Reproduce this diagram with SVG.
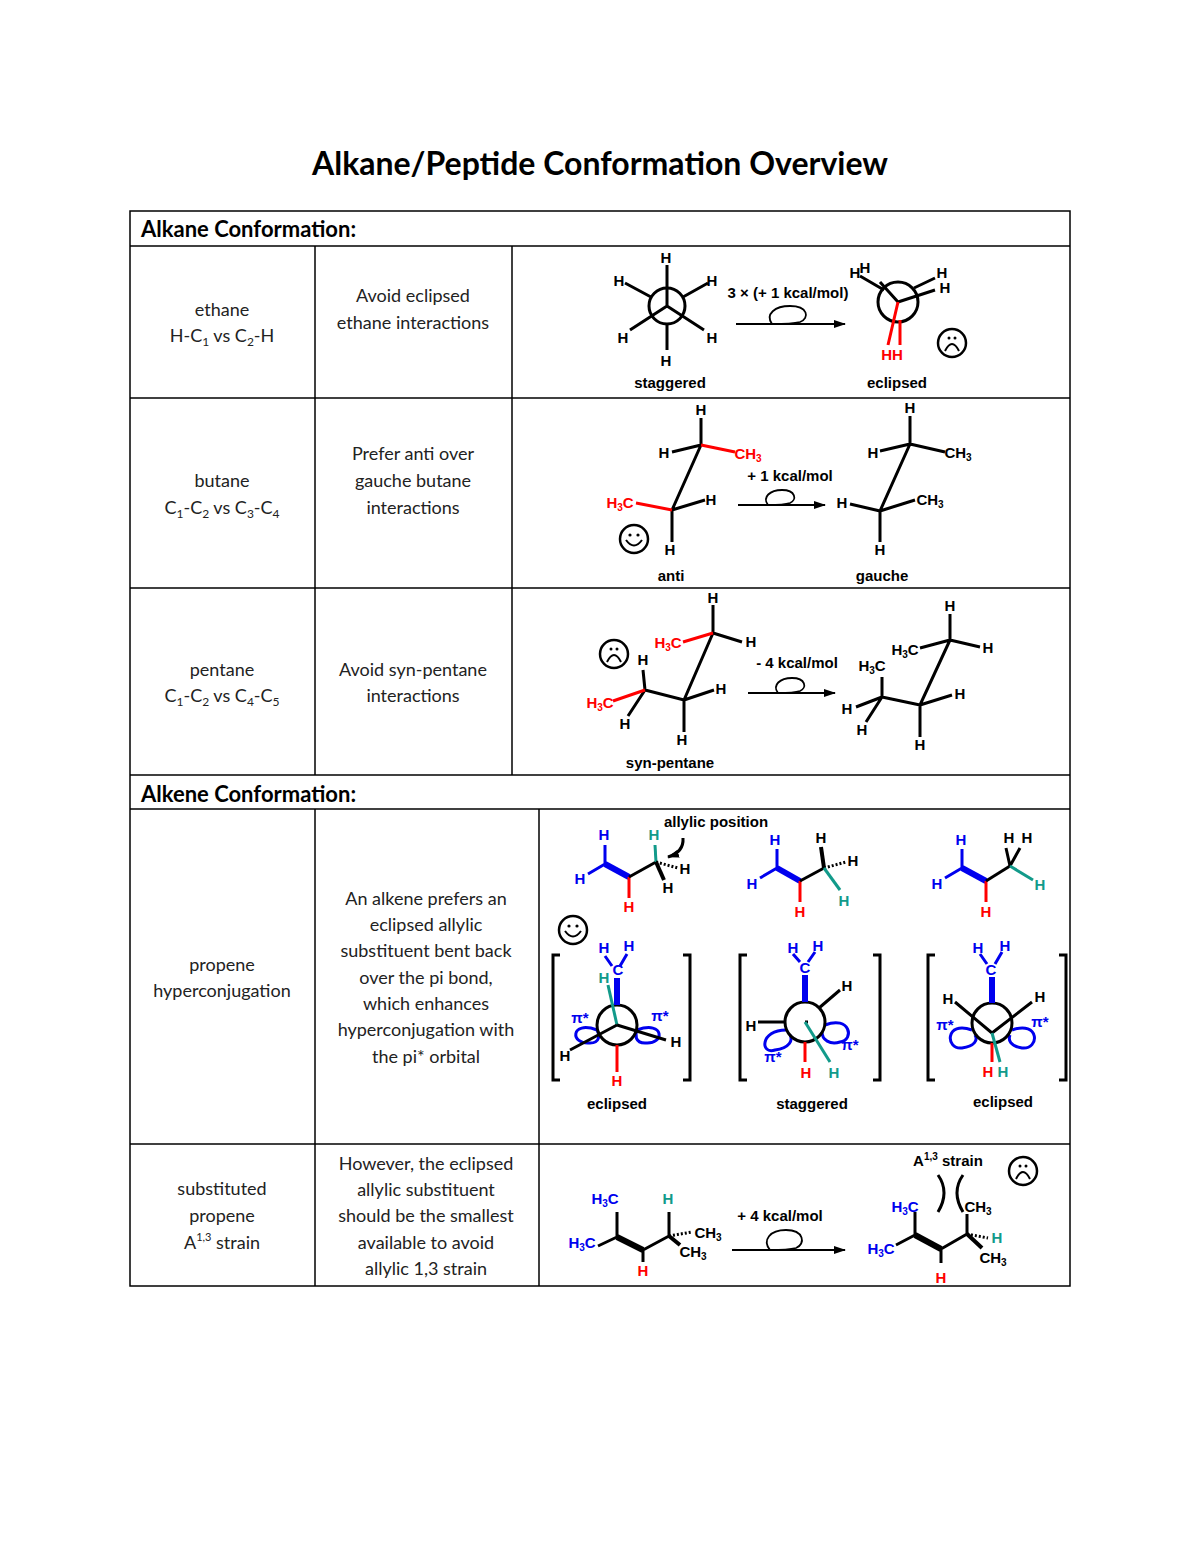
<svg xmlns="http://www.w3.org/2000/svg" width="1200" height="1553" viewBox="0 0 1200 1553">
<style>
.t{font-family:Lato,"Liberation Sans",sans-serif;font-size:18px;fill:#222;text-anchor:middle}
.h{font-family:Lato,"Liberation Sans",sans-serif;font-size:22px;font-weight:bold;fill:#000}
.c{font-family:"Liberation Sans",Arial,sans-serif;font-size:15px;font-weight:bold;fill:#000;text-anchor:middle}
.s{font-size:10px}
.b{stroke:#000;stroke-width:3;fill:none}
.bl{stroke:#0000ee;stroke-width:3;fill:none}
.r{stroke:#f00;stroke-width:3;fill:none}
.g{stroke:#129a8a;stroke-width:3;fill:none}
.ln{stroke:#000;stroke-width:1.8;fill:none}
.B{fill:#0000ee}.R{fill:#f00}.G{fill:#129a8a}
</style>
<defs>
<marker id="ah" markerWidth="12" markerHeight="8" refX="11" refY="4" orient="auto" markerUnits="userSpaceOnUse"><path d="M0,0 L12,4 L0,8z" fill="#000"/></marker>
<g id="smile"><circle r="14" fill="none" stroke="#000" stroke-width="2.5"/><circle cx="-4" cy="-4" r="1.6"/><circle cx="4" cy="-4" r="1.6"/><path d="M-8,1 Q0,12 8,1" stroke="#000" stroke-width="2" fill="none"/></g>
<g id="frown"><circle r="14" fill="none" stroke="#000" stroke-width="2.5"/><circle cx="-3" cy="-5" r="1.5"/><circle cx="3" cy="-5" r="1.5"/><path d="M-7,8 Q0,-6 7,8" stroke="#000" stroke-width="2" fill="none"/></g>
</defs>
<text x="600" y="175" text-anchor="middle" font-family="Lato,'Liberation Sans',sans-serif" font-size="32" font-weight="bold">Alkane/Peptide Conformation Overview</text>
<g id="table" stroke="#000" stroke-width="1.5" fill="none">
<rect x="130" y="211" width="940" height="1075"/>
<line x1="130" y1="246" x2="1070" y2="246"/><line x1="130" y1="398" x2="1070" y2="398"/>
<line x1="130" y1="588" x2="1070" y2="588"/><line x1="130" y1="775" x2="1070" y2="775"/>
<line x1="130" y1="809" x2="1070" y2="809"/><line x1="130" y1="1144" x2="1070" y2="1144"/>
<line x1="315" y1="246" x2="315" y2="775"/><line x1="512" y1="246" x2="512" y2="775"/>
<line x1="315" y1="809" x2="315" y2="1286"/><line x1="539" y1="809" x2="539" y2="1286"/>
</g>
<text class="h" x="141" y="237">Alkane Conformation:</text>
<text class="h" x="141" y="802">Alkene Conformation:</text>
<g id="col-text">
<text class="t" x="222" y="316">ethane</text>
<text class="t" x="222" y="342">H-C<tspan font-size="12" dy="4">1</tspan><tspan dy="-4"> vs C</tspan><tspan font-size="12" dy="4">2</tspan><tspan dy="-4">-H</tspan></text>
<text class="t" x="413" y="302">Avoid eclipsed</text><text class="t" x="413" y="329">ethane interactions</text>
<text class="t" x="222" y="487">butane</text>
<text class="t" x="222" y="514">C<tspan font-size="12" dy="4">1</tspan><tspan dy="-4">-C</tspan><tspan font-size="12" dy="4">2</tspan><tspan dy="-4"> vs C</tspan><tspan font-size="12" dy="4">3</tspan><tspan dy="-4">-C</tspan><tspan font-size="12" dy="4">4</tspan></text>
<text class="t" x="413" y="460">Prefer anti over</text><text class="t" x="413" y="487">gauche butane</text><text class="t" x="413" y="514">interactions</text>
<text class="t" x="222" y="676">pentane</text>
<text class="t" x="222" y="702">C<tspan font-size="12" dy="4">1</tspan><tspan dy="-4">-C</tspan><tspan font-size="12" dy="4">2</tspan><tspan dy="-4"> vs C</tspan><tspan font-size="12" dy="4">4</tspan><tspan dy="-4">-C</tspan><tspan font-size="12" dy="4">5</tspan></text>
<text class="t" x="413" y="676">Avoid syn-pentane</text><text class="t" x="413" y="702">interactions</text>
<text class="t" x="222" y="971">propene</text><text class="t" x="222" y="997">hyperconjugation</text>
<text class="t" x="426" y="905">An alkene prefers an</text><text class="t" x="426" y="931">eclipsed allylic</text><text class="t" x="426" y="957">substituent bent back</text><text class="t" x="426" y="984">over the pi bond,</text><text class="t" x="426" y="1010">which enhances</text><text class="t" x="426" y="1036">hyperconjugation with</text><text class="t" x="426" y="1063">the pi* orbital</text>
<text class="t" x="222" y="1195">substituted</text><text class="t" x="222" y="1222">propene</text>
<text class="t" x="222" y="1249">A<tspan font-size="11" dy="-8">1,3</tspan><tspan dy="8"> strain</tspan></text>
<text class="t" x="426" y="1170">However, the eclipsed</text><text class="t" x="426" y="1196">allylic substituent</text><text class="t" x="426" y="1222">should be the smallest</text><text class="t" x="426" y="1249">available to avoid</text><text class="t" x="426" y="1275">allylic 1,3 strain</text>
</g>
<g id="ethane-staggered">
<circle cx="667" cy="306" r="18" class="b"/>
<path class="b" d="M667,306V265M667,306L630,330M667,306L704,330M651,297L625,283M683,297L708,283M667,324V350"/>
<text class="c" x="666" y="263">H</text><text class="c" x="619" y="286">H</text><text class="c" x="712" y="286">H</text>
<text class="c" x="623" y="343">H</text><text class="c" x="712" y="343">H</text><text class="c" x="666" y="366">H</text>
<text class="c" x="670" y="388">staggered</text>
</g>
<g id="ethane-eclipsed">
<circle cx="898" cy="302" r="20" class="b"/>
<path class="b" d="M898,302L880,282M898,302L935,290M884,290L860,276M914,288L935,278"/>
<path class="r" d="M898,302L888,345M900,320L900,345"/>
<text class="c" x="855" y="278">H</text><text class="c" x="865" y="273">H</text>
<text class="c" x="942" y="278">H</text><text class="c" x="945" y="293">H</text>
<text class="c R" x="892" y="360">HH</text>
<text class="c" x="897" y="388">eclipsed</text>
<use href="#frown" x="952" y="343"/>
</g>
<g id="butane-anti">
<path class="b" d="M701,445L672,510M701,445V418M701,445L672,452M672,510L705,500M672,510V542"/>
<path class="r" d="M701,445L735,452M672,510L636,503"/>
<text class="c" x="701" y="415">H</text><text class="c" x="664" y="458">H</text><text class="c R" x="748" y="459">CH<tspan class="s" dy="3">3</tspan></text>
<text class="c R" x="620" y="508">H<tspan class="s" dy="3">3</tspan><tspan dy="-3">C</tspan></text><text class="c" x="711" y="505">H</text><text class="c" x="670" y="555">H</text>
<use href="#smile" x="634" y="539"/>
<text class="c" x="671" y="581">anti</text>
</g>
<g id="butane-gauche">
<path class="b" d="M910,444L880,511M910,444V416M910,444L880,451M910,444L945,452M880,511L850,504M880,511L915,500M880,511V542"/>
<text class="c" x="910" y="413">H</text><text class="c" x="873" y="458">H</text><text class="c" x="958" y="458">CH<tspan class="s" dy="3">3</tspan></text>
<text class="c" x="842" y="508">H</text><text class="c" x="930" y="505">CH<tspan class="s" dy="3">3</tspan></text><text class="c" x="880" y="555">H</text>
<text class="c" x="882" y="581">gauche</text>
</g>
<g id="pentane-syn">
<path class="b" d="M713,633L684,700L645,690M713,633V605M713,633L742,642M684,700L714,690M684,700V732M645,690L643,670M645,690L628,716"/>
<path class="r" d="M713,633L683,642M645,690L613,701"/>
<text class="c" x="713" y="603">H</text><text class="c R" x="668" y="648">H<tspan class="s" dy="3">3</tspan><tspan dy="-3">C</tspan></text><text class="c" x="751" y="647">H</text>
<text class="c" x="643" y="665">H</text><text class="c R" x="600" y="708">H<tspan class="s" dy="3">3</tspan><tspan dy="-3">C</tspan></text><text class="c" x="625" y="729">H</text>
<text class="c" x="721" y="694">H</text><text class="c" x="682" y="745">H</text>
<use href="#frown" x="614" y="654"/>
<text class="c" x="670" y="768">syn-pentane</text>
</g>
<g id="pentane-right">
<path class="b" d="M950,640L920,705L882,697M950,640V614M950,640L920,648M950,640L980,647M920,705L952,695M920,705V737M882,697L882,677M882,697L856,707M882,697L866,722"/>
<text class="c" x="950" y="611">H</text><text class="c" x="905" y="655">H<tspan class="s" dy="3">3</tspan><tspan dy="-3">C</tspan></text><text class="c" x="988" y="653">H</text>
<text class="c" x="872" y="671">H<tspan class="s" dy="3">3</tspan><tspan dy="-3">C</tspan></text><text class="c" x="847" y="714">H</text><text class="c" x="862" y="735">H</text>
<text class="c" x="960" y="699">H</text><text class="c" x="920" y="750">H</text>
</g>
<g id="propene1">
<path class="bl" d="M605,864V845M605,864L588,874" /><path stroke="#0000ee" stroke-width="6" d="M605,864L629,877"/>
<path class="r" d="M629,877V898"/><path class="b" d="M629,877L656,862"/><path class="g" d="M656,862L655,845"/>
<path stroke="#000" stroke-width="3" stroke-dasharray="2,2" d="M656,862L678,868"/><path stroke="#000" stroke-width="4" d="M656,862L664,880"/>
<text class="c B" x="604" y="840">H</text><text class="c B" x="580" y="884">H</text><text class="c R" x="629" y="912">H</text>
<text class="c G" x="654" y="840">H</text><text class="c" x="685" y="874">H</text><text class="c" x="668" y="893">H</text>
<text class="c" x="716" y="827">allylic position</text>
<path class="b" stroke-width="2" d="M683,838Q684,852 668,857" marker-end="url(#ah)"/>
</g>
<g id="propene2">
<path class="bl" d="M777,868V849M777,868L760,878"/><path stroke="#0000ee" stroke-width="6" d="M777,868L800,881"/>
<path class="r" d="M800,881V902"/><path class="b" d="M800,881L824,868"/><path stroke="#000" stroke-width="4" d="M824,868L821,847"/>
<path stroke="#000" stroke-width="3" stroke-dasharray="2,2" d="M824,868L846,862"/><path class="g" d="M824,868L840,890"/>
<text class="c B" x="775" y="845">H</text><text class="c B" x="752" y="889">H</text><text class="c R" x="800" y="917">H</text>
<text class="c" x="821" y="843">H</text><text class="c" x="853" y="866">H</text><text class="c G" x="844" y="906">H</text>
</g>
<g id="propene3">
<path class="bl" d="M962,868V849M962,868L945,878"/><path stroke="#0000ee" stroke-width="6" d="M962,868L986,881"/>
<path class="r" d="M986,881V902"/><path class="b" d="M986,881L1010,866"/><path stroke="#000" stroke-width="3" d="M1010,866L1006,848M1010,866L1020,848"/><path class="g" d="M1010,866L1033,880"/>
<text class="c B" x="961" y="845">H</text><text class="c B" x="937" y="889">H</text><text class="c R" x="986" y="917">H</text>
<text class="c" x="1009" y="843">H</text><text class="c" x="1027" y="843">H</text><text class="c G" x="1040" y="890">H</text>
</g>
<use href="#smile" x="573" y="930"/>
<g id="newman1">
<path class="b" d="M560,955H553V1080H560M683,955H690V1080H683"/>
<path class="bl" fill="none" d="M597,1030C570,1020 570,1045 590,1043C600,1043 600,1035 597,1030M637,1030C665,1020 665,1045 645,1043C635,1043 635,1035 637,1030"/>
<circle cx="617" cy="1025" r="20" class="b" fill="#fff"/>
<path stroke="#0000ee" stroke-width="6" d="M617,1005V978"/><path class="bl" d="M612,966L605,956M620,966L627,954"/>
<path class="g" d="M617,1025L608,985"/><path class="b" d="M617,1025L570,1050M617,1025L666,1040"/><path class="r" d="M617,1045V1072"/>
<text class="c B" x="604" y="953">H</text><text class="c B" x="629" y="951">H</text><text class="c B" x="618" y="975">C</text>
<text class="c G" x="604" y="983">H</text><text class="c" x="565" y="1061">H</text><text class="c" x="676" y="1047">H</text><text class="c R" x="617" y="1086">H</text>
<text class="c B" x="580" y="1023" font-size="11">π*</text><text class="c B" x="660" y="1021" font-size="11">π*</text>
<text class="c" x="617" y="1109">eclipsed</text>
</g>
<g id="newman2">
<path class="b" d="M747,955H740V1080H747M873,955H880V1080H873"/>
<path class="bl" d="M786,1030C760,1030 760,1055 775,1050C790,1048 793,1040 790,1035M825,1025C850,1015 855,1040 840,1042C830,1045 822,1040 822,1032"/>
<circle cx="805" cy="1022" r="20" class="b" fill="#fff"/>
<path stroke="#0000ee" stroke-width="6" d="M805,1002V975"/><path class="bl" d="M800,962L793,954M808,962L815,952"/>
<path class="b" d="M785,1022H758M819,1008L840,990M805,1022L808,1022"/><path class="r" d="M805,1042V1062"/><path class="g" d="M805,1022L830,1062"/>
<text class="c B" x="793" y="953">H</text><text class="c B" x="818" y="951">H</text><text class="c B" x="805" y="973">C</text>
<text class="c" x="751" y="1031">H</text><text class="c" x="847" y="991">H</text><text class="c R" x="806" y="1078">H</text><text class="c G" x="834" y="1078">H</text>
<text class="c B" x="773" y="1062" font-size="11">π*</text><text class="c B" x="850" y="1050" font-size="11">π*</text>
<text class="c" x="812" y="1109">staggered</text>
</g>
<g id="newman3">
<path class="b" d="M935,955H928V1080H935M1059,955H1066V1080H1059"/>
<path class="bl" d="M972,1030C945,1020 945,1050 962,1048C975,1046 978,1040 975,1035M1012,1030C1040,1020 1040,1050 1022,1048C1010,1046 1008,1040 1010,1035"/>
<circle cx="992" cy="1023" r="20" class="b" fill="#fff"/>
<path stroke="#0000ee" stroke-width="6" d="M992,1003V977"/><path class="bl" d="M987,964L980,954M995,964L1002,952"/>
<path class="b" d="M992,1033L955,1002M992,1033L1032,1002"/><path class="r" d="M992,1043V1062"/><path class="g" d="M992,1033L1000,1062"/>
<text class="c B" x="978" y="953">H</text><text class="c B" x="1005" y="951">H</text><text class="c B" x="991" y="975">C</text>
<text class="c" x="948" y="1004">H</text><text class="c" x="1040" y="1002">H</text><text class="c R" x="988" y="1077">H</text><text class="c G" x="1003" y="1077">H</text>
<text class="c B" x="945" y="1030" font-size="11">π*</text><text class="c B" x="1040" y="1027" font-size="11">π*</text>
<text class="c" x="1003" y="1107">eclipsed</text>
</g>
<g id="sub-left">
<path class="b" d="M617,1237V1212M617,1237L598,1246M643,1250L669,1236M669,1236V1212M643,1250V1262"/>
<path stroke="#000" stroke-width="6" d="M617,1237L643,1250"/>
<path stroke="#000" stroke-width="3" stroke-dasharray="2,2" d="M669,1236L692,1232"/><path stroke="#000" stroke-width="4" d="M669,1236L680,1245"/>
<text class="c B" x="605" y="1204">H<tspan class="s" dy="3">3</tspan><tspan dy="-3">C</tspan></text>
<text class="c B" x="582" y="1248">H<tspan class="s" dy="3">3</tspan><tspan dy="-3">C</tspan></text>
<text class="c R" x="643" y="1276">H</text><text class="c G" x="668" y="1204">H</text>
<text class="c" x="708" y="1238">CH<tspan class="s" dy="3">3</tspan></text><text class="c" x="693" y="1257">CH<tspan class="s" dy="3">3</tspan></text>
</g>
<g id="sub-right">
<path class="b" d="M915,1235V1212M915,1235L896,1245M941,1249L967,1234M967,1234V1214M941,1249V1263"/>
<path stroke="#000" stroke-width="6" d="M915,1235L941,1249"/>
<path stroke="#000" stroke-width="3" stroke-dasharray="2,2" d="M967,1234L988,1238"/><path stroke="#000" stroke-width="4" d="M967,1234L982,1248"/>
<text class="c B" x="905" y="1212">H<tspan class="s" dy="3">3</tspan><tspan dy="-3">C</tspan></text>
<text class="c B" x="881" y="1254">H<tspan class="s" dy="3">3</tspan><tspan dy="-3">C</tspan></text>
<text class="c R" x="941" y="1283">H</text><text class="c" x="978" y="1212">CH<tspan class="s" dy="3">3</tspan></text>
<text class="c G" x="997" y="1243">H</text><text class="c" x="993" y="1263">CH<tspan class="s" dy="3">3</tspan></text>
<text class="c" x="948" y="1166">A<tspan class="s" dy="-6">1,3</tspan><tspan dy="6"> strain</tspan></text>
<path class="b" stroke-width="2" d="M938,1175Q950,1192 938,1212M963,1175Q951,1192 963,1212"/>
<use href="#frown" x="1023" y="1171"/>
</g>
<g id="connectors">
<path class="ln" d="M736,324H845" marker-end="url(#ah)"/><path class="ln" d="M772,324C765,314 775,306 790,306C808,306 810,318 800,322C792,324 780,324 772,324"/>
<text class="c" x="788" y="298" font-size="13">3 × (+ 1 kcal/mol)</text>
<path class="ln" d="M738,505H825" marker-end="url(#ah)"/><path class="ln" d="M768,505C762,497 770,490 782,490C796,490 797,500 790,503C784,505 775,505 768,505"/>
<text class="c" x="790" y="481" font-size="13">+ 1 kcal/mol</text>
<path class="ln" d="M748,693H835" marker-end="url(#ah)"/><path class="ln" d="M778,693C772,685 780,678 792,678C806,678 807,688 800,691C794,693 785,693 778,693"/>
<text class="c" x="797" y="668" font-size="13">- 4 kcal/mol</text>
<path class="ln" d="M732,1250H845" marker-end="url(#ah)"/><path class="ln" d="M770,1250C762,1240 770,1230 786,1230C804,1230 806,1244 796,1248C788,1250 778,1250 770,1250"/>
<text class="c" x="780" y="1221" font-size="13">+ 4 kcal/mol</text>
</g>
</svg>
